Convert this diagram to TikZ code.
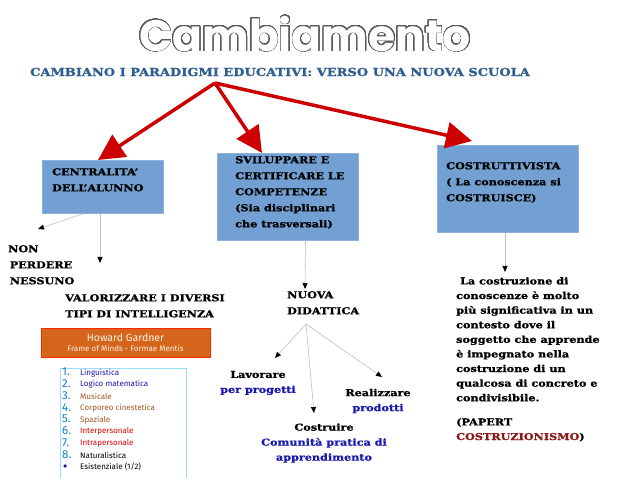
\documentclass[tikz,border=0pt]{standalone}
\usepackage{fontspec}
\usepackage{contour}
\setmainfont{DejaVu Serif}[BoldFont={DejaVu Serif Bold},BoldFeatures={FakeBold=1.2,FakeStretch=1.18}]
\newfontfamily\titlefont{Poppins Bold}
\newfontfamily\handfont{Fira Sans}
\usetikzlibrary{arrows.meta}
\definecolor{boxblue}{HTML}{72A0D2}
\definecolor{subblue}{HTML}{2F5F90}
\definecolor{darkred}{HTML}{CC0000}
\definecolor{orng}{HTML}{D6651C}
\definecolor{txtblue}{HTML}{1A1AB0}
\definecolor{brn}{HTML}{A8551E}
\definecolor{maroon}{HTML}{8B1A1A}
\tikzset{
  bt/.style={font=\fontsize{9.5}{16}\selectfont\bfseries, align=left, inner sep=0pt},
  ct/.style={font=\fontsize{9.5}{15}\selectfont\bfseries, align=center, inner sep=0pt},
  bluebox/.style={fill=boxblue, draw=boxblue!80!white, inner sep=0pt},
  redarr/.style={draw=darkred, line width=3.5pt, -{Triangle[length=26pt,width=26pt]}, darkred},
  grayarr/.style={draw=black!25, line width=0.6pt, -{Triangle[length=6pt,width=5pt,fill=black,color=black]}},
}
\begin{document}
\begin{tikzpicture}[x=1pt,y=-1pt]
\useasboundingbox (0,0) rectangle (638,478);
\fill[white] (0,0) rectangle (638,478);
\node (title) at (305,34) {\contourlength{0.8pt}\contournumber{40}\fontsize{44}{44}\titlefont\contour{black!65}{\textcolor{white}{Cambiamento}}};
\node[bt, text=subblue, font=\fontsize{11}{11}\selectfont\bfseries] (sub) at (280,72) {CAMBIANO I PARADIGMI EDUCATIVI: VERSO UNA NUOVA SCUOLA};
\coordinate (src) at (215,83);
\node[bluebox, minimum width=121pt, minimum height=53pt] (b1) at (102.5,186.5) {};
\node[bt, anchor=north west] at (52,168) {CENTRALITA'\\DELL'ALUNNO};
\node[bluebox, minimum width=141pt, minimum height=87pt] (b2) at (287.5,196.5) {};
\node[bt, anchor=north west] at (235,156) {SVILUPPARE E\\CERTIFICARE LE\\COMPETENZE\\(Sia disciplinari\\che trasversali)};
\node[bluebox, minimum width=141pt, minimum height=87pt] (b3) at (507.5,188.5) {};
\node[bt, anchor=north west] at (446,162) {COSTRUTTIVISTA\\( La conoscenza si\\COSTRUISCE)};
\draw[redarr] (src) -- (98,160);
\draw[redarr] (src) -- (262,153);
\draw[redarr] (src) -- (472,141);
% left branch
\coordinate (l1) at (82,214);
\coordinate (ltip) at (38,229);
\draw[grayarr] (l1) -- (ltip);
\node[bt, anchor=north west] (npn) at (8,245) {NON\\\,PERDERE\\\,NESSUNO};
\coordinate (ll) at (100,214);
\node[bt, anchor=north west] (val) at (65,294) {VALORIZZARE I DIVERSI\\TIPI DI INTELLIGENZA};
\draw[grayarr] (ll) -- (100,263);
\node[fill=orng, draw=red!70!orange, minimum width=169pt, minimum height=29pt, inner sep=0pt] (hg) at (125.5,342.5) {};
\node[text=white!90!orange, align=center, font=\handfont\fontsize{8}{10}\selectfont] at (125.5,342.5) {{\fontsize{10.5}{11}\selectfont Howard Gardner}\\Frame of Minds - Formae Mentis};
\node[draw=cyan!40, minimum width=126pt, minimum height=112pt, inner sep=0pt] (list) at (123,424) {};
\begin{scope}[font=\handfont\fontsize{8}{9}\selectfont]
\foreach \n/\t/\c [count=\i] in {1./Linguistica/txtblue, 2./Logico matematica/txtblue, 3./Musicale/brn, 4./Corporeo cinestetica/brn, 5./Spaziale/brn, 6./Interpersonale/red!85!black, 7./Intrapersonale/red!85!black, 8./Naturalistica/black}{
  \node[anchor=west, text=cyan!60!blue, font=\handfont\fontsize{11.5}{11}\selectfont, inner sep=0pt] at (62,360+\i*11.8) {\n};
  \node[anchor=west, text=\c, inner sep=0pt] at (80,361+\i*11.8) {\t};
}
\node[anchor=west, text=txtblue, inner sep=0pt] at (63,467) {$\bullet$};
\node[anchor=west, inner sep=0pt] at (80,467) {Esistenziale (1/2)};
\end{scope}
% middle branch
\node[bt, anchor=north west] (nd) at (287,291) {NUOVA\\DIDATTICA};
\draw[grayarr] (b2.south) ++(18,0) -- (305,289);
\coordinate (nds) at (306,324);
\draw[grayarr] (nds) -- (275,358);
\draw[grayarr] (nds) -- (314,413);
\draw[grayarr] (nds) -- (382,377);
\node[ct] (lav) at (258,383) {Lavorare\\\textcolor{txtblue}{per progetti}};
\node[ct] (rea) at (378,401) {Realizzare\\\textcolor{txtblue}{prodotti}};
\node[ct] (cos) at (324,443) {Costruire\\\textcolor{txtblue}{Comunità pratica di}\\\textcolor{txtblue}{apprendimento}};
% right branch
\draw[grayarr] (505,233) -- (505,272);
\node[bt, anchor=north west, font=\fontsize{9.5}{14.6}\selectfont\bfseries] (par) at (456,277) {\ La costruzione di\\conoscenze è molto\\più significativa in un\\contesto dove il\\soggetto che apprende\\è impegnato nella\\costruzione di un\\qualcosa di concreto e\\condivisibile.};
\node[bt, anchor=north west, font=\fontsize{9.5}{14.6}\selectfont\bfseries] (pap) at (456,418) {(PAPERT\\\textcolor{maroon}{COSTRUZIONISMO})};
\end{tikzpicture}
\end{document}
